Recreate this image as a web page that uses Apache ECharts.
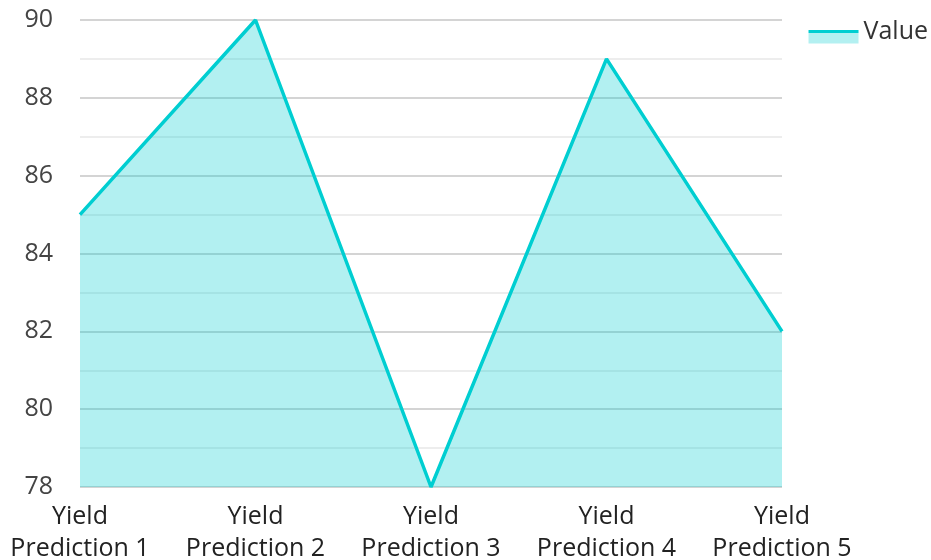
<!DOCTYPE html>
<html>
<head>
<meta charset="utf-8">
<script src="https://cdn.jsdelivr.net/npm/echarts@6/dist/echarts.min.js"></script>
<style>html,body{margin:0;padding:0;background:#fff}#c{width:931px;height:560px}</style>
</head>
<body>
<div id="c"></div>
<script>
const categories = ["Yield Prediction 1", "Yield Prediction 2", "Yield Prediction 3", "Yield Prediction 4", "Yield Prediction 5"];
const values = [85, 90, 78, 89, 82];
const seriesName = "Value";

const chart = echarts.init(document.getElementById('c'));
chart.setOption({
  animation: false,
  textStyle: { fontFamily: 'Open Sans' },
  legend: {
    right: 3, top: 19, padding: 0,
    icon: 'rect',
    itemWidth: 50, itemHeight: 24, itemGap: 10,
    textStyle: { fontSize: 25, color: '#333', fontFamily: 'Open Sans' },
    itemStyle: {
      color: {
        type: 'linear', x: 0, y: 0, x2: 0, y2: 1,
        colorStops: [
          { offset: 0, color: 'rgba(255,255,255,0)' }, { offset: 0.417, color: 'rgba(255,255,255,0)' },
          { offset: 0.417, color: '#00CED1' }, { offset: 0.58, color: '#00CED1' },
          { offset: 0.58, color: '#b3f0f1' }, { offset: 1, color: '#b3f0f1' }
        ]
      }
    },
    data: [seriesName]
  },
  grid: { left: 80, right: 149, top: 20, bottom: 73, containLabel: false, outerBoundsMode: 'none' },
  xAxis: {
    type: 'category', boundaryGap: false, data: categories,
    axisLine: { show: false }, axisTick: { show: false },
    axisLabel: {
      fontSize: 25, color: '#222', lineHeight: 32, margin: 14, interval: 0,
      formatter: v => v.replace(' ', '\n')
    }
  },
  yAxis: {
    type: 'value', min: 78, max: 90, interval: 2,
    axisLine: { show: false }, axisTick: { show: false },
    axisLabel: { fontSize: 25, color: '#444', margin: 27 },
    splitLine: { lineStyle: { color: '#c6c6c6', width: 1.5 } },
    minorTick: { show: false, splitNumber: 2 },
    minorSplitLine: { show: true, lineStyle: { color: '#e8e8e8', width: 1.5 } }
  },
  series: [{
    name: seriesName, type: 'line', data: values,
    showSymbol: false, symbol: 'none',
    lineStyle: { color: '#00CED1', width: 3.5 },
    itemStyle: { color: '#00CED1' },
    areaStyle: { color: '#00CED1', opacity: 0.3 }
  }]
});
</script>
</body>
</html>
